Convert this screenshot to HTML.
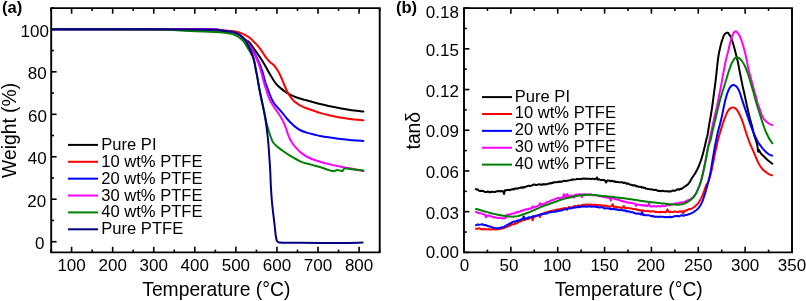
<!DOCTYPE html>
<html><head><meta charset="utf-8"><title>TGA and tan delta</title>
<style>html,body{margin:0;padding:0;background:#fff;width:806px;height:301px;overflow:hidden}svg{display:block}</style>
</head><body>
<svg width="806" height="301" viewBox="0 0 806 301">
<rect width="806" height="301" fill="#fff"/>
<g stroke="#000" stroke-width="1.6">
<line x1="51.06" y1="252.40" x2="51.06" y2="249.60"/>
<line x1="51.06" y1="8.10" x2="51.06" y2="10.90"/>
<line x1="71.60" y1="252.40" x2="71.60" y2="246.80"/>
<line x1="71.60" y1="8.10" x2="71.60" y2="13.70"/>
<line x1="92.14" y1="252.40" x2="92.14" y2="249.60"/>
<line x1="92.14" y1="8.10" x2="92.14" y2="10.90"/>
<line x1="112.67" y1="252.40" x2="112.67" y2="246.80"/>
<line x1="112.67" y1="8.10" x2="112.67" y2="13.70"/>
<line x1="133.21" y1="252.40" x2="133.21" y2="249.60"/>
<line x1="133.21" y1="8.10" x2="133.21" y2="10.90"/>
<line x1="153.74" y1="252.40" x2="153.74" y2="246.80"/>
<line x1="153.74" y1="8.10" x2="153.74" y2="13.70"/>
<line x1="174.28" y1="252.40" x2="174.28" y2="249.60"/>
<line x1="174.28" y1="8.10" x2="174.28" y2="10.90"/>
<line x1="194.81" y1="252.40" x2="194.81" y2="246.80"/>
<line x1="194.81" y1="8.10" x2="194.81" y2="13.70"/>
<line x1="215.35" y1="252.40" x2="215.35" y2="249.60"/>
<line x1="215.35" y1="8.10" x2="215.35" y2="10.90"/>
<line x1="235.88" y1="252.40" x2="235.88" y2="246.80"/>
<line x1="235.88" y1="8.10" x2="235.88" y2="13.70"/>
<line x1="256.42" y1="252.40" x2="256.42" y2="249.60"/>
<line x1="256.42" y1="8.10" x2="256.42" y2="10.90"/>
<line x1="276.96" y1="252.40" x2="276.96" y2="246.80"/>
<line x1="276.96" y1="8.10" x2="276.96" y2="13.70"/>
<line x1="297.49" y1="252.40" x2="297.49" y2="249.60"/>
<line x1="297.49" y1="8.10" x2="297.49" y2="10.90"/>
<line x1="318.03" y1="252.40" x2="318.03" y2="246.80"/>
<line x1="318.03" y1="8.10" x2="318.03" y2="13.70"/>
<line x1="338.56" y1="252.40" x2="338.56" y2="249.60"/>
<line x1="338.56" y1="8.10" x2="338.56" y2="10.90"/>
<line x1="359.10" y1="252.40" x2="359.10" y2="246.80"/>
<line x1="359.10" y1="8.10" x2="359.10" y2="13.70"/>
<line x1="379.63" y1="252.40" x2="379.63" y2="249.60"/>
<line x1="379.63" y1="8.10" x2="379.63" y2="10.90"/>
<line x1="51.20" y1="241.70" x2="56.60" y2="241.70"/>
<line x1="51.20" y1="199.23" x2="56.60" y2="199.23"/>
<line x1="51.20" y1="156.76" x2="56.60" y2="156.76"/>
<line x1="51.20" y1="114.30" x2="56.60" y2="114.30"/>
<line x1="51.20" y1="71.83" x2="56.60" y2="71.83"/>
<line x1="51.20" y1="29.36" x2="56.60" y2="29.36"/>
<line x1="51.20" y1="220.47" x2="54.00" y2="220.47"/>
<line x1="51.20" y1="178.00" x2="54.00" y2="178.00"/>
<line x1="51.20" y1="135.53" x2="54.00" y2="135.53"/>
<line x1="51.20" y1="93.06" x2="54.00" y2="93.06"/>
<line x1="51.20" y1="50.59" x2="54.00" y2="50.59"/>
<line x1="51.20" y1="8.13" x2="54.00" y2="8.13"/>
<line x1="464.00" y1="252.40" x2="464.00" y2="246.80"/>
<line x1="464.00" y1="8.10" x2="464.00" y2="13.70"/>
<line x1="487.43" y1="252.40" x2="487.43" y2="249.60"/>
<line x1="487.43" y1="8.10" x2="487.43" y2="10.90"/>
<line x1="510.86" y1="252.40" x2="510.86" y2="246.80"/>
<line x1="510.86" y1="8.10" x2="510.86" y2="13.70"/>
<line x1="534.29" y1="252.40" x2="534.29" y2="249.60"/>
<line x1="534.29" y1="8.10" x2="534.29" y2="10.90"/>
<line x1="557.71" y1="252.40" x2="557.71" y2="246.80"/>
<line x1="557.71" y1="8.10" x2="557.71" y2="13.70"/>
<line x1="581.14" y1="252.40" x2="581.14" y2="249.60"/>
<line x1="581.14" y1="8.10" x2="581.14" y2="10.90"/>
<line x1="604.57" y1="252.40" x2="604.57" y2="246.80"/>
<line x1="604.57" y1="8.10" x2="604.57" y2="13.70"/>
<line x1="628.00" y1="252.40" x2="628.00" y2="249.60"/>
<line x1="628.00" y1="8.10" x2="628.00" y2="10.90"/>
<line x1="651.43" y1="252.40" x2="651.43" y2="246.80"/>
<line x1="651.43" y1="8.10" x2="651.43" y2="13.70"/>
<line x1="674.86" y1="252.40" x2="674.86" y2="249.60"/>
<line x1="674.86" y1="8.10" x2="674.86" y2="10.90"/>
<line x1="698.28" y1="252.40" x2="698.28" y2="246.80"/>
<line x1="698.28" y1="8.10" x2="698.28" y2="13.70"/>
<line x1="721.71" y1="252.40" x2="721.71" y2="249.60"/>
<line x1="721.71" y1="8.10" x2="721.71" y2="10.90"/>
<line x1="745.14" y1="252.40" x2="745.14" y2="246.80"/>
<line x1="745.14" y1="8.10" x2="745.14" y2="13.70"/>
<line x1="768.57" y1="252.40" x2="768.57" y2="249.60"/>
<line x1="768.57" y1="8.10" x2="768.57" y2="10.90"/>
<line x1="792.00" y1="252.40" x2="792.00" y2="246.80"/>
<line x1="792.00" y1="8.10" x2="792.00" y2="13.70"/>
<line x1="464.00" y1="252.40" x2="469.40" y2="252.40"/>
<line x1="464.00" y1="211.68" x2="469.40" y2="211.68"/>
<line x1="464.00" y1="170.97" x2="469.40" y2="170.97"/>
<line x1="464.00" y1="130.25" x2="469.40" y2="130.25"/>
<line x1="464.00" y1="89.54" x2="469.40" y2="89.54"/>
<line x1="464.00" y1="48.82" x2="469.40" y2="48.82"/>
<line x1="464.00" y1="8.10" x2="469.40" y2="8.10"/>
<line x1="464.00" y1="232.04" x2="466.80" y2="232.04"/>
<line x1="464.00" y1="191.33" x2="466.80" y2="191.33"/>
<line x1="464.00" y1="150.61" x2="466.80" y2="150.61"/>
<line x1="464.00" y1="109.89" x2="466.80" y2="109.89"/>
<line x1="464.00" y1="69.18" x2="466.80" y2="69.18"/>
<line x1="464.00" y1="28.46" x2="466.80" y2="28.46"/>
</g>
<g fill="none" stroke-width="2" stroke-linejoin="round" stroke-linecap="round">
<path stroke="#000000" d="M52.00,29.30 C68.33,29.30 125.33,29.28 150.00,29.30 C174.67,29.32 187.50,29.12 200.00,29.40 C212.50,29.68 219.17,30.48 225.00,31.00 C230.83,31.52 232.33,31.67 235.00,32.50 C237.67,33.33 239.33,34.83 241.00,36.00 C242.67,37.17 243.58,38.42 245.00,39.50 C246.42,40.58 248.13,41.17 249.50,42.50 C250.87,43.83 251.95,45.75 253.20,47.50 C254.45,49.25 255.73,51.17 257.00,53.00 C258.27,54.83 259.55,56.58 260.80,58.50 C262.05,60.42 263.33,62.50 264.50,64.50 C265.67,66.50 266.72,68.58 267.80,70.50 C268.88,72.42 269.93,74.22 271.00,76.00 C272.07,77.78 273.13,79.65 274.20,81.20 C275.27,82.75 276.27,84.10 277.40,85.30 C278.53,86.50 279.82,87.42 281.00,88.40 C282.18,89.38 283.27,90.32 284.50,91.20 C285.73,92.08 287.15,92.95 288.40,93.70 C289.65,94.45 290.75,95.12 292.00,95.70 C293.25,96.28 294.57,96.73 295.90,97.20 C297.23,97.67 298.50,98.05 300.00,98.50 C301.50,98.95 303.23,99.43 304.90,99.90 C306.57,100.37 307.48,100.62 310.00,101.30 C312.52,101.98 316.67,103.18 320.00,104.00 C323.33,104.82 326.67,105.50 330.00,106.20 C333.33,106.90 336.68,107.58 340.00,108.20 C343.32,108.82 346.00,109.35 349.90,109.90 C353.80,110.45 361.15,111.23 363.40,111.50"/>
<path stroke="#ff0000" d="M52.00,29.30 C68.33,29.30 125.33,29.30 150.00,29.30 C174.67,29.30 188.33,29.20 200.00,29.30 C211.67,29.40 215.33,29.65 220.00,29.90 C224.67,30.15 225.50,30.53 228.00,30.80 C230.50,31.07 233.00,31.20 235.00,31.50 C237.00,31.80 238.33,32.05 240.00,32.60 C241.67,33.15 243.33,33.90 245.00,34.80 C246.67,35.70 248.67,36.97 250.00,38.00 C251.33,39.03 251.92,39.93 253.00,41.00 C254.08,42.07 255.37,43.18 256.50,44.40 C257.63,45.62 258.72,46.87 259.80,48.30 C260.88,49.73 261.97,51.47 263.00,53.00 C264.03,54.53 265.17,56.33 266.00,57.50 C266.83,58.67 267.27,59.18 268.00,60.00 C268.73,60.82 269.57,61.65 270.40,62.40 C271.23,63.15 272.23,63.82 273.00,64.50 C273.77,65.18 274.33,65.67 275.00,66.50 C275.67,67.33 276.27,68.33 277.00,69.50 C277.73,70.67 278.62,72.00 279.40,73.50 C280.18,75.00 280.95,76.75 281.70,78.50 C282.45,80.25 283.22,82.33 283.90,84.00 C284.58,85.67 285.18,87.13 285.80,88.50 C286.42,89.87 286.98,91.03 287.60,92.20 C288.22,93.37 288.87,94.50 289.50,95.50 C290.13,96.50 290.73,97.35 291.40,98.20 C292.07,99.05 292.75,99.87 293.50,100.60 C294.25,101.33 295.08,101.97 295.90,102.60 C296.72,103.23 297.55,103.87 298.40,104.40 C299.25,104.93 299.75,105.20 301.00,105.80 C302.25,106.40 304.40,107.38 305.90,108.00 C307.40,108.62 308.50,108.98 310.00,109.50 C311.50,110.02 313.23,110.53 314.90,111.10 C316.57,111.67 317.48,112.18 320.00,112.90 C322.52,113.62 326.67,114.65 330.00,115.40 C333.33,116.15 336.68,116.82 340.00,117.40 C343.32,117.98 346.00,118.42 349.90,118.90 C353.80,119.38 361.15,120.07 363.40,120.30"/>
<path stroke="#0000ff" d="M52.00,29.30 C68.33,29.30 125.33,29.30 150.00,29.30 C174.67,29.30 189.17,29.25 200.00,29.30 C210.83,29.35 210.83,29.32 215.00,29.60 C219.17,29.88 221.67,30.52 225.00,31.00 C228.33,31.48 232.33,31.67 235.00,32.50 C237.67,33.33 239.33,34.75 241.00,36.00 C242.67,37.25 243.67,38.58 245.00,40.00 C246.33,41.42 247.83,43.00 249.00,44.50 C250.17,46.00 251.02,47.42 252.00,49.00 C252.98,50.58 254.00,52.33 254.90,54.00 C255.80,55.67 256.62,57.33 257.40,59.00 C258.18,60.67 258.90,62.33 259.60,64.00 C260.30,65.67 260.97,67.17 261.60,69.00 C262.23,70.83 262.80,72.83 263.40,75.00 C264.00,77.17 264.53,79.83 265.20,82.00 C265.87,84.17 266.67,86.00 267.40,88.00 C268.13,90.00 268.90,92.17 269.60,94.00 C270.30,95.83 270.87,97.47 271.60,99.00 C272.33,100.53 273.13,101.93 274.00,103.20 C274.87,104.47 275.90,105.55 276.80,106.60 C277.70,107.65 278.37,108.33 279.40,109.50 C280.43,110.67 281.83,112.18 283.00,113.60 C284.17,115.02 285.23,116.60 286.40,118.00 C287.57,119.40 288.75,120.72 290.00,122.00 C291.25,123.28 292.25,124.37 293.90,125.70 C295.55,127.03 297.65,128.80 299.90,130.00 C302.15,131.20 304.90,132.12 307.40,132.90 C309.90,133.68 312.80,134.20 314.90,134.70 C317.00,135.20 317.48,135.43 320.00,135.90 C322.52,136.37 326.67,137.00 330.00,137.50 C333.33,138.00 336.68,138.48 340.00,138.90 C343.32,139.32 346.00,139.67 349.90,140.00 C353.80,140.33 361.15,140.75 363.40,140.90"/>
<path stroke="#ff00ff" d="M52.00,29.30 C68.33,29.30 125.33,29.30 150.00,29.30 C174.67,29.30 189.17,29.25 200.00,29.30 C210.83,29.35 210.83,29.32 215.00,29.60 C219.17,29.88 221.67,30.52 225.00,31.00 C228.33,31.48 232.33,31.67 235.00,32.50 C237.67,33.33 239.33,34.75 241.00,36.00 C242.67,37.25 243.72,38.58 245.00,40.00 C246.28,41.42 247.60,43.00 248.70,44.50 C249.80,46.00 250.67,47.42 251.60,49.00 C252.53,50.58 253.45,52.33 254.30,54.00 C255.15,55.67 255.98,57.33 256.70,59.00 C257.42,60.67 258.00,62.33 258.60,64.00 C259.20,65.67 259.73,67.17 260.30,69.00 C260.87,70.83 261.42,72.83 262.00,75.00 C262.58,77.17 263.13,79.67 263.80,82.00 C264.47,84.33 265.27,86.67 266.00,89.00 C266.73,91.33 267.48,94.00 268.20,96.00 C268.92,98.00 269.57,99.50 270.30,101.00 C271.03,102.50 271.88,103.83 272.60,105.00 C273.32,106.17 273.78,106.83 274.60,108.00 C275.42,109.17 276.53,110.58 277.50,112.00 C278.47,113.42 279.48,115.00 280.40,116.50 C281.32,118.00 282.25,119.52 283.00,121.00 C283.75,122.48 284.30,123.90 284.90,125.40 C285.50,126.90 286.05,128.40 286.60,130.00 C287.15,131.60 287.60,133.42 288.20,135.00 C288.80,136.58 289.47,138.08 290.20,139.50 C290.93,140.92 291.65,142.15 292.60,143.50 C293.55,144.85 294.35,145.95 295.90,147.60 C297.45,149.25 299.65,151.67 301.90,153.40 C304.15,155.13 306.40,156.62 309.40,158.00 C312.40,159.38 316.47,160.63 319.90,161.70 C323.33,162.77 326.65,163.60 330.00,164.40 C333.35,165.20 336.68,165.85 340.00,166.50 C343.32,167.15 346.00,167.55 349.90,168.30 C353.80,169.05 361.15,170.55 363.40,171.00"/>
<path stroke="#008000" d="M52.00,29.30 C68.33,29.32 131.17,29.35 150.00,29.40 C168.83,29.45 158.33,29.33 165.00,29.60 C171.67,29.87 180.83,30.57 190.00,31.00 C199.17,31.43 213.33,31.77 220.00,32.20 C226.67,32.63 227.50,33.13 230.00,33.60 C232.50,34.07 233.33,34.27 235.00,35.00 C236.67,35.73 238.50,36.83 240.00,38.00 C241.50,39.17 242.87,40.58 244.00,42.00 C245.13,43.42 245.92,45.08 246.80,46.50 C247.68,47.92 248.55,49.25 249.30,50.50 C250.05,51.75 250.70,52.92 251.30,54.00 C251.90,55.08 252.42,55.80 252.90,57.00 C253.38,58.20 253.70,59.03 254.20,61.20 C254.70,63.37 255.38,67.37 255.90,70.00 C256.42,72.63 256.78,74.17 257.30,77.00 C257.82,79.83 258.35,83.50 259.00,87.00 C259.65,90.50 260.58,95.00 261.20,98.00 C261.82,101.00 262.10,102.17 262.70,105.00 C263.30,107.83 264.15,111.92 264.80,115.00 C265.45,118.08 265.97,120.92 266.60,123.50 C267.23,126.08 267.97,128.42 268.60,130.50 C269.23,132.58 269.83,134.38 270.40,136.00 C270.97,137.62 271.48,139.03 272.00,140.20 C272.52,141.37 272.67,141.95 273.50,143.00 C274.33,144.05 275.52,145.25 277.00,146.50 C278.48,147.75 280.25,148.97 282.40,150.50 C284.55,152.03 286.93,153.90 289.90,155.70 C292.87,157.50 296.85,159.85 300.20,161.30 C303.55,162.75 306.70,163.45 310.00,164.40 C313.30,165.35 317.17,166.15 320.00,167.00 C322.83,167.85 325.17,168.87 327.00,169.50 C328.83,170.13 329.83,170.53 331.00,170.80 C332.17,171.07 333.02,171.23 334.00,171.10 C334.98,170.97 335.90,170.08 336.90,170.00 C337.90,169.92 339.10,170.43 340.00,170.60 C340.90,170.77 341.48,171.38 342.30,171.00 C343.12,170.62 343.63,168.63 344.90,168.30 C346.17,167.97 346.82,168.63 349.90,169.00 C352.98,169.37 361.15,170.25 363.40,170.50"/>
<path stroke="#000080" d="M52.00,29.30 C68.33,29.30 125.33,29.27 150.00,29.30 C174.67,29.33 189.17,29.42 200.00,29.50 C210.83,29.58 210.83,29.55 215.00,29.80 C219.17,30.05 221.67,30.55 225.00,31.00 C228.33,31.45 232.33,31.67 235.00,32.50 C237.67,33.33 239.33,34.75 241.00,36.00 C242.67,37.25 243.83,38.50 245.00,40.00 C246.17,41.50 247.03,43.17 248.00,45.00 C248.97,46.83 250.00,49.17 250.80,51.00 C251.60,52.83 252.23,54.33 252.80,56.00 C253.37,57.67 253.68,58.67 254.20,61.00 C254.72,63.33 255.38,67.33 255.90,70.00 C256.42,72.67 256.78,74.17 257.30,77.00 C257.82,79.83 258.35,83.50 259.00,87.00 C259.65,90.50 260.58,95.00 261.20,98.00 C261.82,101.00 262.12,102.17 262.70,105.00 C263.28,107.83 264.10,111.67 264.70,115.00 C265.30,118.33 265.83,121.67 266.30,125.00 C266.77,128.33 267.13,131.67 267.50,135.00 C267.87,138.33 268.22,141.67 268.50,145.00 C268.78,148.33 268.92,150.83 269.20,155.00 C269.48,159.17 269.93,165.00 270.20,170.00 C270.47,175.00 270.53,180.00 270.80,185.00 C271.07,190.00 271.47,195.83 271.80,200.00 C272.13,204.17 272.37,206.12 272.80,210.00 C273.23,213.88 273.90,218.97 274.40,223.30 C274.90,227.63 275.35,233.00 275.80,236.00 C276.25,239.00 276.48,240.22 277.10,241.30 C277.72,242.38 277.92,242.27 279.50,242.50 C281.08,242.73 283.18,242.65 286.60,242.70 C290.02,242.75 291.10,242.77 300.00,242.80 C308.90,242.83 329.57,242.93 340.00,242.90 C350.43,242.87 358.83,242.65 362.60,242.60"/>
</g>
<g fill="none" stroke-width="2" stroke-linejoin="round" stroke-linecap="butt">
<path stroke="#000000" d="M475.20,188.41 L475.91,189.10 L477.00,189.72 L477.80,189.45 L478.73,190.63 L480.00,190.96 L480.80,190.78 L481.70,191.08 L482.69,190.83 L483.74,191.29 L484.85,191.91 L486.00,192.07 L486.89,191.97 L487.81,191.46 L488.77,191.67 L489.75,192.37 L490.77,191.74 L491.81,191.93 L492.89,191.59 L494.00,191.97 L494.92,192.10 L495.87,191.55 L496.86,191.27 L497.86,191.32 L498.88,190.95 L499.91,191.15 L500.94,191.46 L501.97,190.89 L503.00,191.11 L504.00,193.99 L504.99,190.23 L505.99,190.40 L506.98,189.93 L507.97,189.94 L508.96,189.79 L509.94,190.28 L510.93,189.59 L511.92,189.58 L512.91,189.03 L513.90,189.47 L514.88,188.60 L515.85,188.47 L516.80,188.75 L517.76,188.31 L518.72,188.30 L519.69,187.90 L520.68,187.48 L521.69,187.82 L522.72,187.12 L523.80,187.64 L524.74,186.91 L525.72,186.86 L526.74,186.50 L527.79,185.89 L528.84,185.62 L529.91,186.09 L530.96,185.75 L532.00,185.43 L533.02,184.74 L534.00,184.59 L534.93,184.55 L535.80,185.05 L536.99,184.90 L538.07,184.41 L539.07,184.40 L540.02,184.36 L540.96,184.38 L541.91,184.92 L542.91,184.48 L544.00,184.03 L544.93,184.54 L545.88,184.01 L546.87,184.22 L547.87,183.93 L548.89,183.46 L549.91,183.19 L550.94,183.42 L551.97,182.79 L552.99,182.91 L554.00,182.16 L555.00,182.21 L556.00,182.23 L557.00,182.23 L558.00,181.80 L559.00,181.99 L560.00,181.48 L561.00,181.79 L562.00,181.73 L563.00,181.17 L564.00,180.70 L565.00,181.24 L566.00,180.87 L567.00,180.75 L568.00,180.64 L569.00,180.39 L570.00,180.21 L571.00,180.09 L572.00,179.41 L573.00,179.66 L574.00,179.35 L575.00,179.62 L576.00,179.38 L577.00,178.92 L578.00,179.08 L579.01,178.89 L580.01,179.07 L581.01,179.15 L582.01,178.76 L583.00,178.49 L584.00,178.70 L585.10,178.51 L586.20,178.69 L587.30,178.87 L588.40,178.77 L589.50,178.78 L590.60,178.98 L591.70,178.98 L592.80,178.61 L593.90,178.88 L594.90,179.28 L595.90,179.08 L596.90,177.47 L597.90,179.63 L598.90,179.26 L599.90,179.64 L600.90,180.17 L601.90,179.89 L602.90,179.96 L603.90,179.89 L605.00,180.56 L606.10,182.49 L607.20,180.42 L608.30,180.40 L609.40,180.81 L610.50,181.25 L611.60,180.69 L612.70,181.06 L613.80,181.65 L614.80,181.32 L615.79,182.09 L616.79,181.86 L617.78,182.01 L618.78,182.23 L619.78,182.37 L620.78,182.31 L621.79,182.25 L622.79,182.57 L623.80,183.02 L624.81,182.60 L625.83,183.22 L626.85,183.88 L627.88,183.37 L628.90,184.03 L629.92,184.57 L630.95,184.66 L631.97,184.86 L632.99,185.56 L634.00,185.32 L635.01,185.36 L636.01,186.16 L637.01,186.03 L638.01,186.82 L639.01,186.66 L640.01,186.90 L641.01,186.82 L642.00,187.63 L643.00,187.33 L644.00,188.06 L645.00,187.60 L646.00,188.69 L647.00,188.68 L648.00,189.04 L649.00,189.10 L650.00,189.39 L651.00,189.23 L652.00,189.31 L653.00,189.74 L654.00,190.11 L655.02,189.81 L656.06,189.93 L657.13,190.53 L658.19,190.94 L659.25,190.66 L660.29,190.93 L661.29,191.34 L662.26,190.64 L663.16,190.81 L664.00,191.21 L665.22,191.36 L666.26,191.19 L667.19,191.24 L668.07,191.50 L668.99,191.23 L670.00,191.61 L670.96,191.48 L671.98,190.76 L673.02,190.57 L674.07,190.80 L675.10,190.82 L676.09,190.08 L677.00,189.58 L678.17,189.28 L679.25,189.76 L680.27,188.76 L681.25,189.04 L682.20,188.47 L683.14,187.79 L684.05,186.88 L684.92,186.62 L685.74,185.80 L686.50,185.60 L687.35,184.84 L688.11,184.16 L688.81,183.15 L689.50,182.42 L690.04,181.40 L690.55,180.53 L691.06,179.62 L691.57,178.69 L692.10,177.80 L692.67,176.94 L693.26,176.08 L693.85,175.23 L694.44,174.37 L695.00,173.50 L695.53,172.62 L696.05,171.74 L696.55,170.85 L697.03,169.94 L697.50,169.00 L697.95,168.02 L698.39,167.01 L698.82,165.99 L699.22,164.98 L699.60,164.00 L700.04,162.84 L700.44,161.72 L700.83,160.61 L701.20,159.50 L701.57,158.39 L701.92,157.28 L702.26,156.16 L702.60,155.00 L702.87,154.03 L703.13,153.04 L703.39,152.02 L703.65,151.01 L703.90,150.00 L704.15,149.00 L704.39,148.00 L704.63,147.00 L704.87,146.00 L705.10,145.00 L705.32,144.00 L705.54,143.00 L705.75,142.00 L705.97,141.00 L706.20,140.00 L706.45,139.05 L706.71,138.14 L706.97,137.22 L707.24,136.19 L707.50,135.00 L707.66,134.14 L707.83,133.19 L707.99,132.18 L708.16,131.12 L708.32,130.06 L708.48,129.00 L708.64,127.97 L708.80,127.00 L708.97,125.97 L709.14,125.01 L709.30,124.09 L709.46,123.16 L709.62,122.19 L709.80,121.15 L710.00,120.00 L710.15,119.12 L710.31,118.19 L710.48,117.22 L710.66,116.22 L710.84,115.19 L711.02,114.14 L711.20,113.09 L711.37,112.05 L711.54,111.01 L711.70,110.00 L711.85,109.00 L712.00,108.00 L712.15,107.00 L712.29,106.00 L712.43,105.00 L712.56,104.00 L712.70,103.00 L712.83,102.00 L712.97,101.00 L713.10,100.00 L713.23,99.00 L713.37,98.00 L713.50,97.00 L713.63,96.00 L713.76,95.00 L713.88,94.00 L714.01,93.00 L714.14,92.00 L714.27,91.00 L714.40,90.00 L714.53,89.01 L714.66,88.03 L714.79,87.06 L714.92,86.10 L715.05,85.12 L715.18,84.14 L715.31,83.15 L715.44,82.13 L715.57,81.08 L715.70,80.00 L715.81,79.07 L715.92,78.10 L716.03,77.12 L716.13,76.11 L716.24,75.09 L716.35,74.06 L716.46,73.03 L716.57,72.00 L716.68,70.98 L716.78,69.97 L716.89,68.97 L717.00,68.00 L717.12,66.94 L717.24,65.87 L717.36,64.79 L717.48,63.72 L717.60,62.65 L717.72,61.61 L717.84,60.59 L717.96,59.61 L718.08,58.68 L718.19,57.81 L718.30,57.00 L718.50,55.69 L718.69,54.56 L718.88,53.56 L719.06,52.67 L719.23,51.83 L719.40,51.00 L719.64,49.86 L719.86,48.88 L720.07,47.95 L720.30,47.00 L720.54,45.99 L720.79,44.97 L721.04,43.96 L721.30,43.00 L721.66,41.79 L722.02,40.63 L722.40,39.50 L722.80,38.33 L723.21,37.19 L723.60,36.20 L724.11,35.11 L724.60,34.30 L725.70,33.30 L727.20,32.60 L728.40,33.00 L729.00,34.30 L729.60,35.10 L730.60,36.40 L731.06,37.47 L731.60,39.00 L731.88,39.82 L732.19,40.76 L732.52,41.78 L732.86,42.87 L733.20,44.00 L733.49,45.00 L733.80,46.07 L734.11,47.19 L734.41,48.31 L734.72,49.43 L735.00,50.50 L735.27,51.53 L735.53,52.56 L735.78,53.56 L736.02,54.56 L736.26,55.53 L736.50,56.50 L736.78,57.59 L737.06,58.62 L737.34,59.64 L737.62,60.75 L737.90,62.00 L738.08,62.88 L738.27,63.82 L738.45,64.82 L738.64,65.84 L738.83,66.89 L739.02,67.94 L739.21,68.98 L739.40,70.00 L739.60,71.00 L739.79,72.00 L739.99,73.00 L740.19,74.00 L740.40,75.00 L740.60,76.00 L740.80,77.00 L741.00,78.00 L741.20,79.01 L741.40,80.05 L741.61,81.09 L741.81,82.12 L742.01,83.15 L742.21,84.14 L742.41,85.10 L742.60,86.00 L742.84,87.10 L743.07,88.09 L743.30,89.03 L743.53,89.96 L743.76,90.94 L744.00,92.00 L744.22,92.99 L744.44,94.03 L744.67,95.11 L744.90,96.21 L745.14,97.31 L745.37,98.42 L745.60,99.50 L745.83,100.58 L746.06,101.66 L746.29,102.74 L746.51,103.82 L746.74,104.89 L746.97,105.95 L747.20,107.00 L747.43,108.03 L747.65,109.04 L747.88,110.03 L748.10,111.03 L748.33,112.01 L748.56,113.00 L748.80,114.00 L749.05,115.00 L749.30,116.00 L749.55,117.00 L749.81,118.00 L750.07,119.00 L750.34,120.00 L750.60,121.00 L750.87,122.00 L751.15,123.01 L751.43,124.03 L751.71,125.03 L751.98,126.04 L752.25,127.03 L752.50,128.00 L752.77,129.13 L753.03,130.26 L753.27,131.38 L753.51,132.46 L753.75,133.51 L754.00,134.50 L754.32,135.60 L754.64,136.63 L754.97,137.61 L755.29,138.56 L755.60,139.50 L755.98,140.68 L756.36,141.84 L756.71,142.96 L757.00,144.00 L757.26,145.21 L757.43,146.31 L757.60,147.50 L757.75,148.66 L757.89,149.98 L758.04,151.14 L758.20,151.80 L759.00,150.00 L759.53,151.00 L760.30,152.60 L760.82,153.28 L761.42,153.97 L762.14,154.73 L763.00,155.60 L763.69,156.28 L764.47,157.04 L765.31,157.84 L766.18,158.65 L767.05,159.45 L767.90,160.20 L768.79,160.95 L769.74,161.73 L770.71,162.49 L771.60,163.19 L772.35,163.77 L772.90,164.20"/>
<path stroke="#ff0000" d="M475.20,228.56 L475.99,228.67 L477.11,228.89 L478.47,228.33 L480.00,228.58 L480.98,229.28 L482.08,229.20 L483.26,229.08 L484.48,229.15 L485.68,229.12 L486.84,229.31 L487.90,229.43 L489.02,229.06 L490.07,229.60 L491.07,229.50 L492.04,229.51 L493.01,229.22 L494.00,229.25 L495.03,229.61 L496.08,228.91 L497.13,229.61 L498.15,229.23 L499.12,229.03 L500.00,228.77 L501.12,228.73 L502.07,228.50 L502.98,228.30 L504.00,227.75 L504.92,227.60 L505.89,227.28 L506.89,226.74 L507.90,226.47 L508.90,225.61 L509.89,225.76 L510.89,224.72 L511.90,224.65 L512.90,224.19 L513.90,224.34 L514.90,223.72 L515.90,223.42 L516.91,223.16 L517.91,222.41 L518.90,221.83 L519.80,221.69 L520.62,220.94 L521.48,220.91 L522.50,219.97 L523.80,219.73 L524.59,220.00 L525.47,219.33 L526.42,219.21 L527.42,218.85 L528.47,218.89 L529.54,218.12 L530.62,217.64 L531.71,217.98 L532.77,220.25 L533.80,216.73 L534.81,216.64 L535.83,216.33 L536.85,215.71 L537.88,215.56 L538.90,215.08 L539.92,217.00 L540.95,214.30 L541.97,213.82 L542.99,213.46 L544.00,213.39 L545.01,212.87 L546.01,212.25 L547.01,212.59 L548.01,211.84 L549.01,211.57 L550.01,211.47 L551.01,210.91 L552.00,210.85 L553.00,210.69 L554.00,210.20 L555.00,210.40 L556.00,209.99 L557.00,209.47 L558.00,209.32 L559.00,209.70 L560.00,208.99 L561.00,209.12 L562.00,208.66 L563.00,208.41 L564.00,208.19 L565.00,208.12 L566.00,207.92 L567.00,209.83 L568.00,208.04 L569.00,206.99 L570.00,207.44 L571.00,207.44 L572.00,207.20 L573.00,206.99 L574.00,206.16 L575.00,205.92 L576.00,206.18 L577.00,206.35 L578.00,205.44 L579.01,205.35 L580.01,206.90 L581.01,205.79 L582.01,204.96 L583.00,205.23 L584.00,204.71 L585.10,204.68 L586.20,204.61 L587.30,204.70 L588.40,204.53 L589.50,204.83 L590.60,204.74 L591.70,204.61 L592.80,204.88 L593.90,204.73 L594.90,205.26 L595.90,204.59 L596.90,205.07 L597.90,205.37 L598.90,205.27 L599.90,205.00 L600.90,205.39 L601.90,205.39 L602.90,205.64 L603.90,205.35 L605.00,206.17 L606.10,205.59 L607.20,206.23 L608.30,206.32 L609.40,206.64 L610.50,206.51 L611.60,206.33 L612.70,204.22 L613.80,206.88 L614.80,206.73 L615.79,207.23 L616.79,206.86 L617.78,207.33 L618.78,207.13 L619.78,207.54 L620.78,207.71 L621.79,207.62 L622.79,207.64 L623.80,205.93 L624.81,207.73 L625.83,208.03 L626.85,208.00 L627.88,208.13 L628.90,208.00 L629.92,208.57 L630.95,208.55 L631.97,208.53 L632.99,209.11 L634.00,208.96 L635.01,208.99 L636.01,209.54 L637.01,209.35 L638.01,210.23 L639.01,209.89 L640.01,210.47 L641.01,210.30 L642.00,210.40 L643.00,210.36 L644.00,210.99 L645.00,211.14 L646.00,210.90 L647.00,211.33 L648.00,210.75 L649.00,211.51 L650.00,211.26 L651.00,211.54 L652.00,211.52 L653.00,211.20 L654.00,211.28 L655.00,212.06 L656.00,211.76 L657.00,211.94 L658.00,211.92 L659.01,212.32 L660.01,211.75 L661.01,212.22 L662.01,212.04 L663.00,211.98 L664.00,211.93 L665.13,212.18 L666.28,212.05 L667.45,209.30 L668.62,211.81 L669.77,212.27 L670.89,211.57 L671.96,211.96 L672.97,212.14 L673.90,211.47 L675.16,211.46 L676.28,211.86 L677.30,212.03 L678.24,211.99 L679.13,211.58 L680.00,211.23 L681.19,211.80 L682.24,211.24 L683.24,213.35 L684.30,210.86 L685.46,210.80 L686.67,210.29 L687.86,209.74 L689.00,209.12 L690.06,209.12 L691.08,208.73 L692.05,208.31 L693.00,207.80 L693.92,207.20 L694.82,206.52 L695.68,205.78 L696.50,205.00 L697.27,204.19 L698.01,203.33 L698.71,202.41 L699.40,201.40 L699.94,200.52 L700.48,199.59 L701.00,198.60 L701.50,197.57 L702.00,196.50 L702.40,195.56 L702.80,194.56 L703.19,193.54 L703.57,192.50 L703.94,191.48 L704.30,190.50 L704.72,189.32 L705.13,188.12 L705.53,186.97 L705.92,185.91 L706.30,185.00 L706.92,184.02 L707.51,183.37 L708.10,182.40 L708.45,181.50 L708.80,180.44 L709.14,179.29 L709.47,178.12 L709.80,177.00 L710.12,175.92 L710.43,174.85 L710.73,173.77 L711.02,172.69 L711.30,171.60 L711.56,170.49 L711.81,169.37 L712.04,168.24 L712.27,167.12 L712.50,166.00 L712.73,164.89 L712.95,163.79 L713.16,162.70 L713.38,161.60 L713.60,160.50 L713.82,159.40 L714.04,158.29 L714.26,157.18 L714.48,156.08 L714.70,155.00 L714.92,153.94 L715.14,152.89 L715.36,151.85 L715.58,150.82 L715.80,149.80 L716.02,148.79 L716.24,147.79 L716.46,146.79 L716.68,145.80 L716.90,144.80 L717.11,143.80 L717.32,142.81 L717.53,141.82 L717.75,140.82 L718.00,139.80 L718.27,138.75 L718.57,137.68 L718.88,136.61 L719.19,135.54 L719.50,134.50 L719.80,133.50 L720.10,132.53 L720.39,131.57 L720.69,130.60 L721.00,129.60 L721.31,128.56 L721.62,127.50 L721.94,126.42 L722.27,125.35 L722.60,124.30 L722.95,123.26 L723.31,122.22 L723.67,121.19 L724.04,120.18 L724.40,119.20 L724.85,118.00 L725.29,116.83 L725.74,115.69 L726.20,114.60 L726.66,113.54 L727.13,112.51 L727.60,111.55 L728.10,110.70 L728.80,109.73 L729.53,108.93 L730.30,108.30 L731.53,107.64 L732.80,107.40 L734.06,107.62 L735.30,108.30 L736.09,109.03 L736.86,109.95 L737.60,111.00 L738.14,111.86 L738.68,112.81 L739.19,113.80 L739.70,114.80 L740.19,115.81 L740.68,116.84 L741.14,117.90 L741.60,119.00 L741.96,119.92 L742.30,120.88 L742.64,121.86 L742.98,122.84 L743.30,123.80 L743.68,124.96 L744.05,126.11 L744.42,127.27 L744.80,128.50 L745.12,129.54 L745.45,130.62 L745.78,131.73 L746.13,132.86 L746.50,134.00 L746.82,134.97 L747.16,135.96 L747.51,136.97 L747.86,137.98 L748.23,138.99 L748.60,140.00 L748.98,141.00 L749.37,142.01 L749.77,143.01 L750.17,144.01 L750.58,145.01 L751.00,146.00 L751.42,146.98 L751.86,147.95 L752.30,148.92 L752.74,149.88 L753.18,150.84 L753.60,151.80 L754.02,152.77 L754.43,153.74 L754.84,154.72 L755.24,155.68 L755.63,156.61 L756.00,157.50 L756.43,158.52 L756.83,159.50 L757.22,160.45 L757.61,161.35 L758.00,162.20 L758.50,163.20 L759.00,164.12 L759.50,164.99 L760.00,165.80 L760.67,166.79 L761.33,167.68 L762.00,168.50 L762.82,169.50 L764.00,170.60 L764.66,171.13 L765.45,171.74 L766.33,172.39 L767.23,173.03 L768.10,173.62 L768.90,174.10 L770.06,174.65 L771.21,175.07 L772.20,175.38 L772.90,175.60"/>
<path stroke="#0000ff" d="M475.20,225.56 L477.00,224.91 L477.87,224.36 L478.88,224.89 L480.00,224.64 L480.95,224.46 L482.00,224.22 L483.05,224.40 L484.00,225.10 L485.07,225.27 L486.04,225.06 L487.00,225.71 L487.96,226.15 L488.93,226.24 L490.00,226.51 L490.93,226.75 L491.94,227.46 L492.98,227.39 L494.00,227.97 L495.34,228.25 L496.66,228.18 L497.90,228.39 L499.00,227.94 L500.00,228.33 L501.00,227.39 L501.94,227.37 L502.86,227.25 L504.00,227.25 L504.86,226.28 L505.82,225.94 L506.84,225.10 L507.88,224.48 L508.90,224.46 L509.89,223.21 L510.89,223.35 L511.90,222.41 L512.90,221.91 L513.90,221.39 L514.90,221.81 L515.90,221.35 L516.91,220.43 L517.91,221.01 L518.90,220.22 L519.80,220.12 L520.62,219.55 L521.48,219.41 L522.50,219.04 L523.80,216.47 L524.59,218.48 L525.47,218.85 L526.42,218.13 L527.42,218.34 L528.47,217.34 L529.54,217.58 L530.62,217.35 L531.71,217.08 L532.77,216.34 L533.80,216.31 L534.81,216.37 L535.83,215.69 L536.85,215.66 L537.88,215.33 L538.90,215.02 L539.92,214.51 L540.95,214.27 L541.97,214.46 L542.99,213.74 L544.00,214.05 L545.01,213.12 L546.01,213.67 L547.01,213.38 L548.01,212.43 L549.01,212.59 L550.01,212.53 L551.01,211.97 L552.00,212.06 L553.00,211.73 L554.00,211.44 L555.00,211.77 L556.00,211.20 L557.00,211.43 L558.00,211.02 L559.00,210.61 L560.00,210.75 L561.00,210.63 L562.00,210.28 L563.00,209.88 L564.00,209.60 L565.00,209.23 L566.00,209.37 L567.00,208.96 L568.00,208.72 L569.00,208.20 L570.00,208.08 L571.00,208.45 L572.00,208.22 L573.00,207.72 L574.00,207.78 L575.00,207.49 L576.00,207.52 L577.00,206.75 L578.00,207.34 L579.01,206.71 L580.01,207.14 L581.01,206.35 L582.01,206.42 L583.00,206.77 L584.00,206.02 L585.10,206.64 L586.20,206.82 L587.30,206.58 L588.40,206.55 L589.50,206.61 L590.60,206.54 L591.70,206.69 L592.80,206.41 L593.90,206.64 L594.90,206.66 L595.90,206.53 L596.90,207.21 L597.90,206.83 L598.90,207.38 L599.90,207.43 L600.90,207.35 L601.90,207.37 L602.90,207.33 L603.90,208.27 L605.00,208.40 L606.10,208.24 L607.20,208.32 L608.30,208.57 L609.40,208.39 L610.50,209.20 L611.60,208.85 L612.70,209.21 L613.80,209.01 L614.80,209.05 L615.79,209.60 L616.79,209.18 L617.78,210.04 L618.78,209.67 L619.78,210.25 L620.78,210.06 L621.79,209.81 L622.79,210.61 L623.80,210.21 L624.81,210.84 L625.83,210.52 L626.85,211.56 L627.88,211.34 L628.90,211.36 L629.92,212.00 L630.95,212.27 L631.97,212.11 L632.99,212.33 L634.00,213.02 L635.01,213.04 L636.01,213.50 L637.01,213.86 L638.01,213.59 L639.01,213.62 L640.01,214.01 L641.01,214.53 L642.00,212.14 L643.00,215.04 L644.00,214.66 L645.00,215.35 L646.00,215.14 L647.00,215.31 L648.00,215.12 L649.00,215.29 L650.00,215.43 L651.00,216.07 L652.00,216.33 L653.00,215.84 L654.00,216.63 L655.00,216.92 L656.00,216.43 L657.00,216.87 L658.00,216.96 L659.01,216.62 L660.01,216.68 L661.01,216.70 L662.01,216.69 L663.00,216.87 L664.00,216.94 L665.13,217.21 L666.28,216.88 L667.45,217.16 L668.62,216.91 L669.77,216.72 L670.89,217.38 L671.96,217.02 L672.97,217.04 L673.90,216.35 L675.16,216.13 L676.27,215.98 L677.29,216.29 L678.23,216.05 L679.12,216.27 L680.00,215.98 L681.22,215.35 L682.31,215.24 L683.36,215.75 L684.50,215.59 L685.52,214.92 L686.60,215.05 L687.69,214.57 L688.74,214.29 L689.70,213.88 L690.75,213.49 L691.69,213.04 L692.58,212.55 L693.50,212.00 L694.47,211.38 L695.46,210.71 L696.41,209.98 L697.30,209.20 L698.10,208.39 L698.83,207.54 L699.52,206.62 L700.20,205.60 L700.73,204.70 L701.24,203.74 L701.74,202.71 L702.23,201.63 L702.70,200.50 L703.09,199.51 L703.46,198.47 L703.83,197.39 L704.19,196.28 L704.54,195.15 L704.90,194.00 L705.21,192.99 L705.52,191.96 L705.83,190.90 L706.13,189.83 L706.43,188.77 L706.72,187.72 L707.00,186.70 L707.31,185.54 L707.60,184.40 L707.89,183.28 L708.16,182.17 L708.43,181.08 L708.70,180.00 L708.97,178.94 L709.23,177.92 L709.48,176.91 L709.73,175.89 L709.97,174.86 L710.20,173.80 L710.42,172.69 L710.63,171.56 L710.83,170.40 L711.03,169.24 L711.22,168.11 L711.40,167.00 L711.58,165.93 L711.75,164.87 L711.91,163.84 L712.07,162.81 L712.24,161.80 L712.40,160.80 L712.60,159.60 L712.80,158.41 L713.01,157.24 L713.21,156.10 L713.40,155.00 L713.59,153.95 L713.77,152.94 L713.94,151.96 L714.12,150.99 L714.30,150.00 L714.48,149.00 L714.66,148.00 L714.83,147.00 L715.01,146.00 L715.20,145.00 L715.39,144.00 L715.59,143.00 L715.80,142.00 L716.00,141.00 L716.20,140.00 L716.40,139.00 L716.59,138.00 L716.79,137.00 L716.99,136.00 L717.20,135.00 L717.42,134.01 L717.65,133.02 L717.89,132.04 L718.14,131.03 L718.40,130.00 L718.68,128.94 L718.98,127.86 L719.29,126.76 L719.60,125.64 L719.90,124.50 L720.15,123.53 L720.40,122.56 L720.66,121.56 L720.91,120.56 L721.16,119.53 L721.40,118.50 L721.64,117.45 L721.87,116.39 L722.11,115.31 L722.34,114.22 L722.57,113.12 L722.80,112.00 L723.00,111.02 L723.20,110.01 L723.40,108.98 L723.60,107.96 L723.80,106.94 L724.00,105.95 L724.20,105.00 L724.43,103.95 L724.64,102.94 L724.86,101.97 L725.09,101.00 L725.33,100.02 L725.60,99.00 L725.89,97.93 L726.21,96.81 L726.54,95.69 L726.88,94.57 L727.24,93.50 L727.60,92.50 L728.05,91.36 L728.51,90.27 L728.98,89.25 L729.48,88.32 L730.00,87.50 L730.94,86.36 L731.94,85.50 L732.90,85.00 L734.23,85.07 L735.50,85.80 L736.33,86.50 L737.14,87.41 L737.90,88.50 L738.43,89.42 L738.93,90.44 L739.42,91.56 L739.90,92.80 L740.22,93.71 L740.54,94.70 L740.85,95.74 L741.16,96.81 L741.48,97.87 L741.80,98.90 L742.13,99.91 L742.46,100.91 L742.79,101.91 L743.13,102.90 L743.47,103.90 L743.80,104.90 L744.13,105.90 L744.47,106.90 L744.80,107.90 L745.13,108.90 L745.47,109.90 L745.80,110.90 L746.13,111.90 L746.47,112.90 L746.80,113.90 L747.13,114.90 L747.47,115.90 L747.80,116.90 L748.13,117.91 L748.47,118.92 L748.80,119.94 L749.13,120.94 L749.47,121.93 L749.80,122.90 L750.20,124.02 L750.59,125.10 L750.99,126.16 L751.39,127.22 L751.80,128.30 L752.20,129.35 L752.58,130.37 L752.99,131.42 L753.45,132.54 L754.00,133.80 L754.41,134.70 L754.88,135.71 L755.38,136.78 L755.90,137.87 L756.43,138.95 L756.95,139.99 L757.44,140.96 L757.90,141.80 L758.56,142.92 L759.16,143.85 L759.74,144.66 L760.31,145.42 L760.90,146.20 L761.60,147.16 L762.27,148.05 L763.01,148.94 L763.90,149.90 L764.63,150.63 L765.46,151.42 L766.34,152.24 L767.23,153.02 L768.10,153.73 L768.90,154.30 L770.06,154.91 L771.21,155.33 L772.20,155.60 L772.90,155.80"/>
<path stroke="#ff00ff" d="M475.20,212.36 L476.14,211.83 L477.50,212.73 L479.00,212.94 L479.92,213.12 L480.91,213.37 L481.94,213.54 L482.98,214.08 L484.00,214.56 L485.00,214.47 L486.00,217.37 L487.00,215.51 L488.00,215.81 L489.00,215.54 L490.00,215.81 L491.00,216.34 L492.00,216.58 L493.00,217.19 L494.00,216.93 L494.98,217.52 L495.94,217.44 L496.91,217.82 L497.92,218.04 L499.00,217.99 L500.04,217.73 L501.21,218.09 L502.41,218.47 L503.56,218.30 L504.55,218.22 L505.30,218.25 L505.86,217.50 L505.81,216.41 L506.10,215.50 L507.03,215.04 L508.29,214.52 L509.90,214.66 L510.73,214.17 L511.67,213.82 L512.68,213.58 L513.74,213.42 L514.81,213.17 L515.88,212.22 L516.90,212.70 L517.86,212.06 L518.79,211.79 L519.70,211.76 L520.63,210.84 L521.61,211.10 L522.65,210.17 L523.80,210.41 L524.67,209.85 L525.60,209.35 L526.57,209.15 L527.57,209.60 L528.59,208.72 L529.64,208.95 L530.69,208.10 L531.74,208.45 L532.78,206.37 L533.80,207.59 L534.81,207.30 L535.83,206.53 L536.85,206.43 L537.88,205.83 L538.90,205.37 L539.92,203.27 L540.95,205.08 L541.97,204.29 L542.99,203.88 L544.00,203.98 L545.01,203.35 L546.01,202.90 L547.01,202.03 L548.01,201.85 L549.01,201.79 L550.01,200.65 L551.01,200.79 L552.00,199.88 L553.00,200.08 L554.00,199.39 L555.00,199.01 L556.00,198.61 L557.00,198.34 L558.00,198.02 L559.00,197.72 L560.00,199.74 L561.00,197.68 L562.00,197.58 L563.00,196.98 L564.00,194.12 L565.02,197.13 L566.06,196.92 L567.13,193.95 L568.19,196.01 L569.25,197.54 L570.29,195.66 L571.29,197.37 L572.26,195.59 L573.16,195.65 L574.00,197.71 L575.22,194.66 L576.26,194.59 L577.19,194.61 L578.07,194.78 L578.99,194.18 L580.00,194.06 L580.95,194.45 L581.93,197.12 L582.94,194.45 L583.95,194.14 L584.98,194.49 L586.00,194.29 L587.00,194.66 L588.12,194.70 L589.19,194.26 L590.26,194.51 L591.37,194.58 L592.57,195.13 L593.90,195.24 L594.77,195.02 L595.70,195.02 L596.68,195.14 L597.68,196.00 L598.71,196.01 L599.76,195.94 L600.81,196.46 L601.86,196.48 L602.89,196.41 L603.90,197.26 L604.89,196.74 L605.88,197.37 L606.87,197.64 L607.85,197.61 L608.84,197.97 L609.82,197.76 L610.81,200.61 L611.80,197.74 L612.80,198.17 L613.80,198.57 L614.81,198.82 L615.82,199.32 L616.84,199.47 L617.87,199.82 L618.89,199.75 L619.92,200.25 L620.95,201.06 L621.97,200.62 L622.99,201.49 L624.00,201.72 L625.01,201.46 L626.01,202.26 L627.01,202.62 L628.01,202.18 L629.01,202.90 L630.01,203.07 L631.01,202.81 L632.00,202.94 L633.00,203.36 L634.00,203.65 L635.00,203.56 L636.00,205.94 L637.00,204.32 L638.00,204.45 L639.00,204.90 L640.00,205.05 L641.00,205.31 L642.00,204.97 L643.00,205.60 L644.00,205.20 L645.00,205.81 L646.00,205.32 L647.00,206.20 L648.00,205.65 L649.00,203.70 L650.00,206.05 L651.00,206.52 L652.00,206.42 L653.00,206.39 L654.00,206.06 L655.02,206.26 L656.06,206.66 L657.13,206.32 L658.19,206.04 L659.25,206.24 L660.29,206.55 L661.29,206.31 L662.26,205.93 L663.16,205.86 L664.00,206.37 L665.23,206.13 L666.30,205.63 L667.25,205.24 L668.15,205.13 L669.05,205.04 L670.00,205.34 L671.01,204.87 L672.04,204.35 L673.06,204.00 L674.07,204.06 L675.06,203.53 L676.00,203.19 L677.09,203.25 L678.15,203.16 L679.17,202.99 L680.12,202.49 L681.00,202.66 L682.21,202.26 L683.23,202.20 L684.30,201.98 L685.54,201.35 L686.82,200.73 L688.00,200.14 L689.00,199.84 L689.90,199.79 L690.80,198.90 L691.74,198.24 L692.68,197.50 L693.60,196.60 L694.27,195.80 L694.94,194.91 L695.58,193.94 L696.20,192.90 L696.67,192.02 L697.11,191.10 L697.55,190.13 L697.97,189.13 L698.40,188.10 L698.83,187.04 L699.27,185.95 L699.69,184.83 L700.11,183.68 L700.50,182.50 L700.81,181.50 L701.10,180.47 L701.38,179.43 L701.66,178.37 L701.93,177.29 L702.20,176.20 L702.43,175.25 L702.66,174.30 L702.89,173.33 L703.12,172.34 L703.35,171.35 L703.57,170.33 L703.80,169.30 L704.03,168.25 L704.26,167.17 L704.49,166.08 L704.72,164.98 L704.95,163.86 L705.18,162.73 L705.40,161.60 L705.59,160.59 L705.79,159.54 L705.98,158.48 L706.17,157.42 L706.36,156.37 L706.55,155.34 L706.73,154.34 L706.90,153.40 L707.12,152.24 L707.31,151.16 L707.51,150.12 L707.70,149.11 L707.89,148.08 L708.10,147.00 L708.29,146.04 L708.48,145.07 L708.67,144.09 L708.87,143.10 L709.07,142.09 L709.28,141.06 L709.50,140.00 L709.70,139.05 L709.90,138.07 L710.12,137.07 L710.33,136.06 L710.55,135.04 L710.77,134.02 L710.99,133.01 L711.20,132.00 L711.41,131.00 L711.62,130.00 L711.83,129.00 L712.04,128.00 L712.26,127.00 L712.47,126.00 L712.68,125.00 L712.90,124.00 L713.12,123.00 L713.34,122.00 L713.56,121.00 L713.79,120.00 L714.01,119.00 L714.24,118.00 L714.47,117.00 L714.70,116.00 L714.93,115.00 L715.17,114.00 L715.41,113.00 L715.66,112.00 L715.90,111.00 L716.14,110.00 L716.37,109.00 L716.60,108.00 L716.82,107.00 L717.04,106.00 L717.26,105.00 L717.48,104.00 L717.69,103.00 L717.89,102.00 L718.10,101.00 L718.30,100.00 L718.50,98.99 L718.69,97.98 L718.88,96.96 L719.07,95.94 L719.25,94.93 L719.44,93.93 L719.62,92.95 L719.80,92.00 L720.01,90.96 L720.21,89.96 L720.41,88.98 L720.61,88.02 L720.80,87.04 L721.00,86.04 L721.20,85.00 L721.37,84.05 L721.54,83.09 L721.71,82.12 L721.88,81.12 L722.05,80.12 L722.23,79.09 L722.41,78.05 L722.60,77.00 L722.78,76.04 L722.96,75.05 L723.15,74.04 L723.34,73.01 L723.53,71.99 L723.73,70.96 L723.92,69.95 L724.11,68.96 L724.30,68.00 L724.50,66.95 L724.70,65.93 L724.89,64.93 L725.07,63.94 L725.27,62.96 L725.47,61.98 L725.68,60.99 L725.90,60.00 L726.14,59.00 L726.40,58.00 L726.66,57.00 L726.94,56.00 L727.21,55.00 L727.48,54.00 L727.75,53.00 L728.00,52.00 L728.24,50.99 L728.46,49.98 L728.68,48.96 L728.90,47.94 L729.12,46.93 L729.34,45.93 L729.56,44.95 L729.80,44.00 L730.09,42.92 L730.39,41.84 L730.70,40.77 L731.01,39.74 L731.32,38.75 L731.62,37.83 L731.90,37.00 L732.35,35.74 L732.76,34.67 L733.17,33.77 L733.60,33.00 L734.54,31.83 L735.50,31.30 L736.36,31.54 L737.30,32.50 L737.91,33.27 L738.58,34.23 L739.27,35.33 L739.90,36.50 L740.36,37.50 L740.79,38.57 L741.21,39.69 L741.61,40.84 L742.00,42.00 L742.32,42.95 L742.61,43.89 L742.91,44.85 L743.20,45.84 L743.49,46.88 L743.80,48.00 L744.04,48.88 L744.29,49.79 L744.54,50.73 L744.79,51.70 L745.04,52.70 L745.30,53.73 L745.55,54.80 L745.80,55.90 L746.00,56.83 L746.21,57.83 L746.42,58.87 L746.63,59.94 L746.84,61.01 L747.04,62.08 L747.24,63.12 L747.44,64.12 L747.62,65.05 L747.80,65.90 L748.07,67.14 L748.30,68.23 L748.52,69.20 L748.74,70.12 L748.96,71.03 L749.20,72.00 L749.45,73.01 L749.71,74.01 L749.98,75.01 L750.25,76.00 L750.53,77.00 L750.80,78.00 L751.08,79.00 L751.37,80.00 L751.66,81.01 L751.94,82.01 L752.23,83.01 L752.50,84.00 L752.76,84.98 L753.00,85.95 L753.24,86.91 L753.48,87.89 L753.73,88.88 L754.00,89.90 L754.29,90.95 L754.60,92.02 L754.92,93.11 L755.24,94.21 L755.57,95.35 L755.90,96.50 L756.18,97.53 L756.46,98.61 L756.75,99.71 L757.04,100.81 L757.33,101.89 L757.61,102.93 L757.90,103.90 L758.30,105.13 L758.70,106.25 L759.09,107.32 L759.49,108.38 L759.90,109.50 L760.25,110.51 L760.60,111.56 L760.95,112.63 L761.30,113.67 L761.65,114.64 L762.00,115.50 L762.51,116.58 L763.01,117.49 L763.51,118.27 L764.00,119.00 L764.83,120.14 L765.90,121.20 L766.78,121.92 L767.83,122.72 L768.92,123.49 L769.90,124.10 L771.09,124.64 L772.16,124.98 L772.90,125.20"/>
<path stroke="#008000" d="M475.20,208.70 C475.83,208.88 477.53,209.38 479.00,209.80 C480.47,210.22 482.33,210.73 484.00,211.20 C485.67,211.67 487.33,212.15 489.00,212.60 C490.67,213.05 492.33,213.50 494.00,213.90 C495.67,214.30 497.33,214.68 499.00,215.00 C500.67,215.32 502.18,215.53 504.00,215.80 C505.82,216.07 508.08,216.47 509.90,216.60 C511.72,216.73 513.57,216.68 514.90,216.60 C516.23,216.52 516.42,216.50 517.90,216.10 C519.38,215.70 522.15,214.75 523.80,214.20 C525.45,213.65 525.80,213.62 527.80,212.80 C529.80,211.98 533.13,210.45 535.80,209.30 C538.47,208.15 540.77,207.08 543.80,205.90 C546.83,204.72 550.63,203.37 554.00,202.20 C557.37,201.03 560.67,199.87 564.00,198.90 C567.33,197.93 570.67,197.05 574.00,196.40 C577.33,195.75 580.68,195.24 584.00,195.00 C587.32,194.76 590.58,194.81 593.90,194.99 C597.22,195.17 600.58,195.75 603.90,196.10 C607.22,196.45 610.48,196.73 613.80,197.10 C617.12,197.47 620.43,197.87 623.80,198.30 C627.17,198.73 630.63,199.20 634.00,199.70 C637.37,200.20 640.67,200.82 644.00,201.30 C647.33,201.78 650.67,202.22 654.00,202.60 C657.33,202.98 661.33,203.32 664.00,203.60 C666.67,203.88 668.17,204.13 670.00,204.30 C671.83,204.47 673.33,204.55 675.00,204.60 C676.67,204.65 678.45,204.77 680.00,204.60 C681.55,204.43 682.97,204.07 684.30,203.57 C685.63,203.07 686.92,202.25 688.00,201.60 C689.08,200.95 689.87,200.47 690.80,199.70 C691.73,198.93 692.70,198.08 693.60,197.00 C694.50,195.92 695.40,194.63 696.20,193.20 C697.00,191.77 697.68,190.13 698.40,188.40 C699.12,186.67 699.87,184.78 700.50,182.80 C701.13,180.82 701.65,178.72 702.20,176.50 C702.75,174.28 703.27,171.95 703.80,169.50 C704.33,167.05 704.87,164.47 705.40,161.80 C705.93,159.13 706.53,155.97 707.00,153.50 C707.47,151.03 707.60,149.25 708.20,147.00 C708.80,144.75 709.92,142.50 710.60,140.00 C711.28,137.50 711.73,134.50 712.30,132.00 C712.87,129.50 713.40,127.50 714.00,125.00 C714.60,122.50 715.27,119.67 715.90,117.00 C716.53,114.33 717.20,111.50 717.80,109.00 C718.40,106.50 718.93,104.17 719.50,102.00 C720.07,99.83 720.53,98.25 721.20,96.00 C721.87,93.75 722.73,91.00 723.50,88.50 C724.27,86.00 725.12,83.25 725.80,81.00 C726.48,78.75 727.08,76.70 727.60,75.00 C728.12,73.30 728.45,72.17 728.90,70.80 C729.35,69.43 729.80,68.12 730.30,66.80 C730.80,65.48 731.37,64.00 731.90,62.90 C732.43,61.80 732.98,60.98 733.50,60.20 C734.02,59.42 734.33,58.65 735.00,58.20 C735.67,57.75 736.70,57.45 737.50,57.50 C738.30,57.55 739.08,57.92 739.80,58.50 C740.52,59.08 741.13,60.08 741.80,61.00 C742.47,61.92 743.13,62.83 743.80,64.00 C744.47,65.17 745.13,66.42 745.80,68.00 C746.47,69.58 747.13,71.55 747.80,73.50 C748.47,75.45 749.22,77.78 749.80,79.70 C750.38,81.62 750.80,83.28 751.30,85.00 C751.80,86.72 752.27,88.17 752.80,90.00 C753.33,91.83 753.97,94.03 754.50,96.00 C755.03,97.97 755.43,99.80 756.00,101.80 C756.57,103.80 757.25,105.92 757.90,108.00 C758.55,110.08 759.22,112.13 759.90,114.30 C760.58,116.47 761.32,118.88 762.00,121.00 C762.68,123.12 763.35,125.20 764.00,127.00 C764.65,128.80 765.25,130.30 765.90,131.80 C766.55,133.30 767.23,134.67 767.90,136.00 C768.57,137.33 769.07,138.47 769.90,139.80 C770.73,141.13 772.40,143.30 772.90,144.00"/>
</g>
<g fill="none" stroke="#000" stroke-width="1.9" stroke-linecap="butt">
<path d="M51.20,8.10 H379.70 V252.40 H51.20 Z" stroke-linejoin="miter"/>
<path d="M464.00,8.10 H792.00 V252.40 H464.00 Z" stroke-linejoin="miter"/>
</g>
<g font-family="Liberation Sans, Arial, sans-serif" fill="#000">
<text x="2.1" y="13.3" font-size="16.6" font-weight="bold">(a)</text>
<text x="395.9" y="13.3" font-size="16.6" font-weight="bold">(b)</text>
<text x="71.60" y="271.4" font-size="17" text-anchor="middle">100</text>
<text x="112.67" y="271.4" font-size="17" text-anchor="middle">200</text>
<text x="153.74" y="271.4" font-size="17" text-anchor="middle">300</text>
<text x="194.81" y="271.4" font-size="17" text-anchor="middle">400</text>
<text x="235.88" y="271.4" font-size="17" text-anchor="middle">500</text>
<text x="276.96" y="271.4" font-size="17" text-anchor="middle">600</text>
<text x="318.03" y="271.4" font-size="17" text-anchor="middle">700</text>
<text x="359.10" y="271.4" font-size="17" text-anchor="middle">800</text>
<text x="44.50" y="249.10" font-size="17" text-anchor="end">0</text>
<text x="46.20" y="206.63" font-size="17" text-anchor="end">20</text>
<text x="46.60" y="164.16" font-size="17" text-anchor="end">40</text>
<text x="46.90" y="121.70" font-size="17" text-anchor="end">60</text>
<text x="46.60" y="79.23" font-size="17" text-anchor="end">80</text>
<text x="48.90" y="36.76" font-size="17" text-anchor="end">100</text>
<text x="216.3" y="295.7" font-size="19.3" text-anchor="middle">Temperature (°C)</text>
<text transform="translate(15.8,130.4) rotate(-90)" font-size="19.3" text-anchor="middle">Weight (%)</text>
<text x="464.60" y="271.4" font-size="17" text-anchor="middle">0</text>
<text x="508.96" y="271.4" font-size="17" text-anchor="middle">50</text>
<text x="557.11" y="271.4" font-size="17" text-anchor="middle">100</text>
<text x="604.57" y="271.4" font-size="17" text-anchor="middle">150</text>
<text x="650.83" y="271.4" font-size="17" text-anchor="middle">200</text>
<text x="698.28" y="271.4" font-size="17" text-anchor="middle">250</text>
<text x="745.14" y="271.4" font-size="17" text-anchor="middle">300</text>
<text x="792.00" y="271.4" font-size="17" text-anchor="middle">350</text>
<text x="458.9" y="258.40" font-size="17" text-anchor="end">0.00</text>
<text x="458.9" y="218.68" font-size="17" text-anchor="end">0.03</text>
<text x="458.9" y="177.97" font-size="17" text-anchor="end">0.06</text>
<text x="458.9" y="137.25" font-size="17" text-anchor="end">0.09</text>
<text x="458.9" y="96.54" font-size="17" text-anchor="end">0.12</text>
<text x="458.9" y="55.82" font-size="17" text-anchor="end">0.15</text>
<text x="458.9" y="17.70" font-size="17" text-anchor="end">0.18</text>
<text x="628.7" y="295.7" font-size="19.3" text-anchor="middle">Temperature (°C)</text>
<text transform="translate(420.4,130.7) rotate(-90)" font-size="19.3" text-anchor="middle">tanδ</text>
<line x1="68.00" y1="144.90" x2="98.00" y2="144.90" stroke="#000" stroke-width="2"/>
<text transform="translate(101.20,149.90) scale(1.05,1)" font-size="15.8">Pure PI</text>
<line x1="68.00" y1="161.78" x2="98.00" y2="161.78" stroke="#f00" stroke-width="2"/>
<text transform="translate(101.20,166.78) scale(1.05,1)" font-size="15.8">10 wt% PTFE</text>
<line x1="68.00" y1="178.66" x2="98.00" y2="178.66" stroke="#00f" stroke-width="2"/>
<text transform="translate(101.20,183.66) scale(1.05,1)" font-size="15.8">20 wt% PTFE</text>
<line x1="68.00" y1="195.54" x2="98.00" y2="195.54" stroke="#f0f" stroke-width="2"/>
<text transform="translate(101.20,200.54) scale(1.05,1)" font-size="15.8">30 wt% PTFE</text>
<line x1="68.00" y1="212.42" x2="98.00" y2="212.42" stroke="#008000" stroke-width="2"/>
<text transform="translate(101.20,217.42) scale(1.05,1)" font-size="15.8">40 wt% PTFE</text>
<line x1="68.00" y1="229.30" x2="98.00" y2="229.30" stroke="#000080" stroke-width="2"/>
<text transform="translate(101.20,234.30) scale(1.05,1)" font-size="15.8">Pure PTFE</text>
<line x1="482.00" y1="97.10" x2="512.00" y2="97.10" stroke="#000" stroke-width="2"/>
<text transform="translate(514.70,101.60) scale(1.05,1)" font-size="15.8">Pure PI</text>
<line x1="482.00" y1="113.98" x2="512.00" y2="113.98" stroke="#f00" stroke-width="2"/>
<text transform="translate(514.70,118.48) scale(1.05,1)" font-size="15.8">10 wt% PTFE</text>
<line x1="482.00" y1="130.86" x2="512.00" y2="130.86" stroke="#00f" stroke-width="2"/>
<text transform="translate(514.70,135.36) scale(1.05,1)" font-size="15.8">20 wt% PTFE</text>
<line x1="482.00" y1="147.74" x2="512.00" y2="147.74" stroke="#f0f" stroke-width="2"/>
<text transform="translate(514.70,152.24) scale(1.05,1)" font-size="15.8">30 wt% PTFE</text>
<line x1="482.00" y1="164.62" x2="512.00" y2="164.62" stroke="#008000" stroke-width="2"/>
<text transform="translate(514.70,169.12) scale(1.05,1)" font-size="15.8">40 wt% PTFE</text>
</g>
</svg>
</body></html>
